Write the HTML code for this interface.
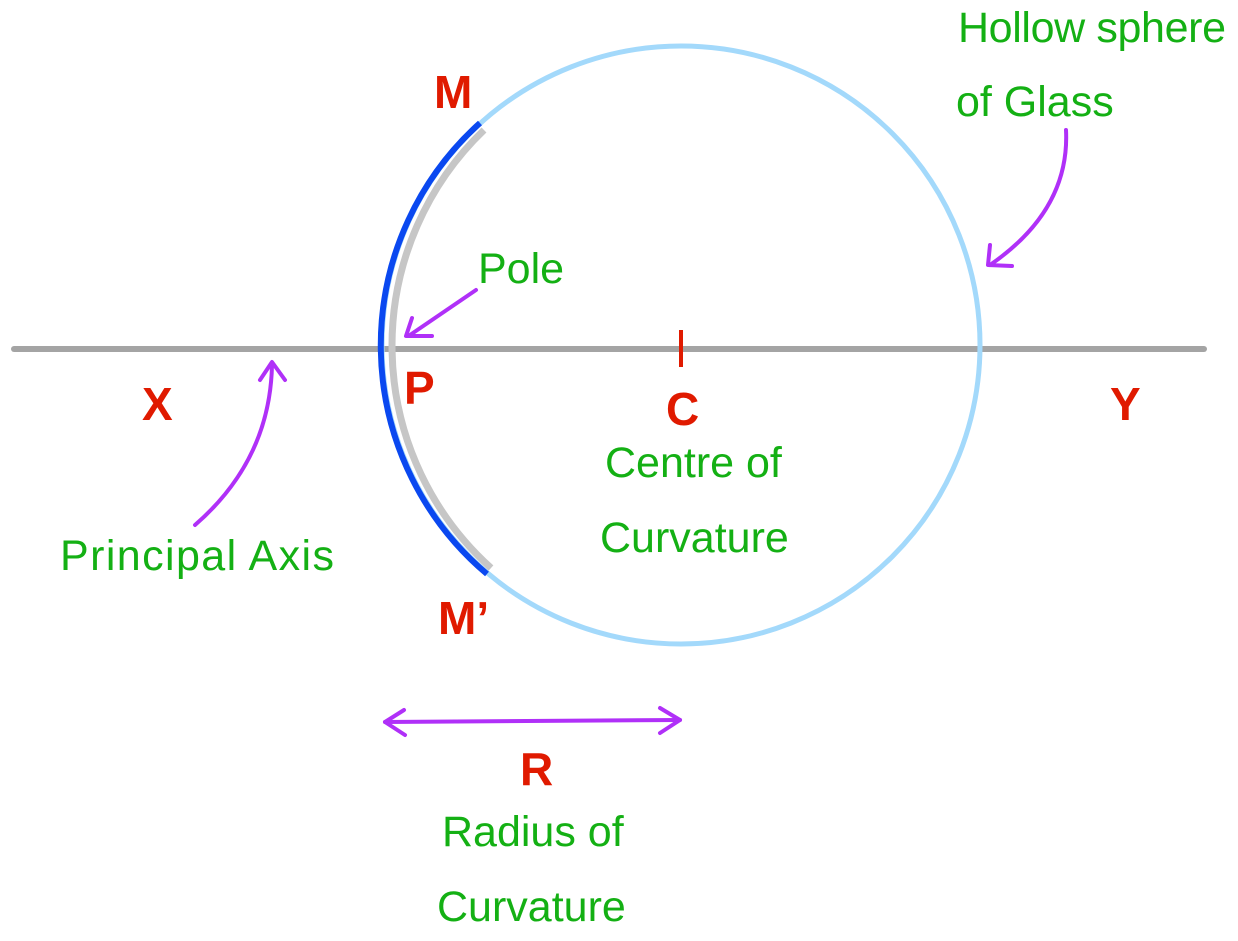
<!DOCTYPE html>
<html><head><meta charset="utf-8"><style>
body{margin:0;background:#fff;}
svg text{font-family:"Liberation Sans",sans-serif;}
.g{fill:#14b014;font-size:43px;}
.r{fill:#e01a00;font-size:46px;font-weight:bold;}
</style></head><body>
<svg width="1238" height="936" viewBox="0 0 1238 936" xmlns="http://www.w3.org/2000/svg">
<line x1="14" y1="349" x2="1204" y2="349" stroke="#a4a4a4" stroke-width="6" stroke-linecap="round"/>
<circle cx="681" cy="345" r="299" fill="none" stroke="#a3d9fb" stroke-width="5"/>
<path d="M480 130 A299 299 0 0 0 487 568" transform="translate(4,0)" fill="none" stroke="#c6c6c6" stroke-width="7"/>
<path d="M480 123 A299 299 0 0 0 487 574" fill="none" stroke="#0a48f0" stroke-width="6"/>
<line x1="681" y1="330" x2="681" y2="367" stroke="#e01a00" stroke-width="4"/>
<g fill="none" stroke="#b030f8" stroke-width="4" stroke-linecap="round" stroke-linejoin="round">
<path d="M476 290 L410 335"/><path d="M412 318 L406 336 L432 336"/>
<path d="M195 525 Q270 460 272 365"/><path d="M260 380 L272 362 L285 380"/>
<path d="M1066 130 Q1070 210 990 265"/><path d="M990 245 L988 265 L1012 266"/>
<path d="M385 722 L680 720"/><path d="M404 710 L385 722 L405 735"/><path d="M660 708 L680 720 L660 733"/>
</g>
<text class="r" x="434" y="108">M</text>
<text class="r" x="404" y="404">P</text>
<text class="r" x="666" y="425">C</text>
<text class="r" x="142" y="420">X</text>
<text class="r" x="1110" y="420">Y</text>
<text class="r" x="438" y="634">M’</text>
<text class="r" x="520" y="785">R</text>
<text class="g" x="478" y="283">Pole</text>
<text class="g" x="958" y="42" textLength="268">Hollow sphere</text>
<text class="g" x="956" y="116">of Glass</text>
<text class="g" x="605" y="477">Centre of</text>
<text class="g" x="600" y="552">Curvature</text>
<text class="g" x="60" y="570" textLength="274">Principal Axis</text>
<text class="g" x="442" y="846">Radius of</text>
<text class="g" x="437" y="921">Curvature</text>
</svg>
</body></html>
